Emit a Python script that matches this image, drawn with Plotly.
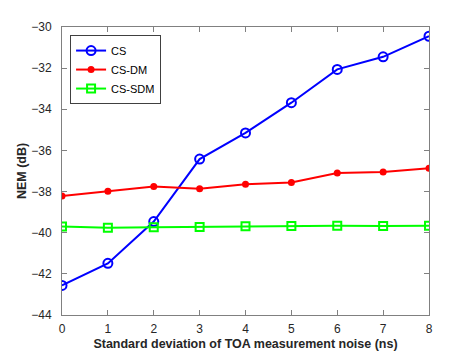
import plotly.graph_objects as go

x_vals = [0, 1, 2, 3, 4, 5, 6, 7, 8]
cs = [-42.56, -41.49, -39.46, -36.42, -35.15, -33.68, -32.06, -31.45, -30.45]
cs_dm = [-38.22, -37.99, -37.75, -37.86, -37.65, -37.56, -37.1, -37.05, -36.87]
cs_sdm = [-39.7, -39.76, -39.74, -39.72, -39.68, -39.67, -39.66, -39.67, -39.66]
x_ticks = [0, 1, 2, 3, 4, 5, 6, 7, 8]
y_ticks = [-44, -42, -40, -38, -36, -34, -32, -30]

fig = go.Figure()
fig.add_trace(go.Scatter(x=x_vals, y=cs, name="CS", mode="lines+markers",
                         line=dict(color="#0000ff", width=2),
                         marker=dict(symbol="circle-open", size=9, color="#0000ff", line=dict(width=2))))
fig.add_trace(go.Scatter(x=x_vals, y=cs_dm, name="CS-DM", mode="lines+markers",
                         line=dict(color="#ff0000", width=2),
                         marker=dict(symbol="circle", size=7, color="#ff0000")))
fig.add_trace(go.Scatter(x=x_vals, y=cs_sdm, name="CS-SDM", mode="lines+markers",
                         line=dict(color="#00ff00", width=2),
                         marker=dict(symbol="square-open", size=8, color="#00ff00", line=dict(width=2))))

axis_common = dict(showgrid=False, zeroline=False, showline=True, linecolor="#808080", linewidth=1,
                   mirror="ticks", ticks="inside", ticklen=5, tickcolor="#808080", automargin=False,
                   tickfont=dict(family="Liberation Sans, Arial", size=12, color="#262626"))

fig.update_xaxes(range=[0, 8], tickvals=x_ticks, ticklabelstandoff=3, **axis_common,
                 title=dict(text="<b>Standard deviation of TOA measurement noise (ns)</b>",
                            font=dict(family="Liberation Sans, Arial", size=12.5, color="#262626"), standoff=3))
fig.update_yaxes(range=[-44, -30], tickvals=y_ticks, ticklabelstandoff=7, **axis_common,
                 title=dict(text="<b>NEM (dB)</b>",
                            font=dict(family="Liberation Sans, Arial", size=12.5, color="#262626"), standoff=1))

fig.update_layout(
    width=466, height=347,
    margin=dict(l=54, r=45, t=19, b=40),
    plot_bgcolor="white", paper_bgcolor="white",
    legend=dict(x=0.022, y=0.972, xanchor="left", yanchor="top",
                bgcolor="white", bordercolor="#404040", borderwidth=1,
                font=dict(family="Liberation Sans, Arial", size=11, color="#000000"),
                tracegroupgap=0, itemwidth=30),
)

fig.write_html("out.html")
